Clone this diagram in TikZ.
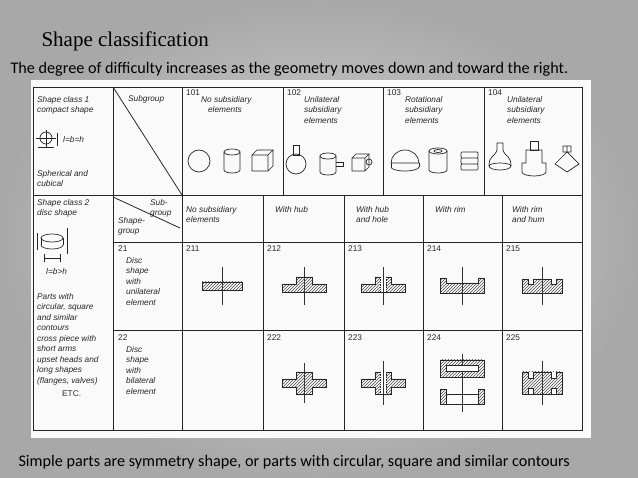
\documentclass[tikz,border=0pt]{standalone}
\usepackage{fontspec}
\setmainfont{Liberation Serif}
\newfontfamily\carlf{Carlito}
\newfontfamily\tbl{Liberation Sans}
\usetikzlibrary{patterns}
\begin{document}
\begin{tikzpicture}[x=1pt,y=-1pt,
  grid/.style={line width=0.8pt,draw=black!85},
  tx/.style={font=\tbl\itshape\fontsize{8.3}{10.5}\selectfont,anchor=north west,align=left,inner sep=0pt,text=black!85},
  num/.style={font=\tbl\fontsize{8.3}{9}\selectfont,anchor=north west,inner sep=0pt,text=black!85},
  sk/.style={line width=0.7pt,draw=black!85},
  hat/.style={sk,pattern=north east lines,pattern color=black!70},
  ax/.style={line width=0.6pt,draw=black!80}]
\useasboundingbox (0,0) rectangle (638,478);
\shade[inner color=gray!30,outer color=gray!68] (0,0) rectangle (638,478);
\node[anchor=west,font=\fontsize{21}{24}\selectfont] (title) at (38,41) {Shape classification};
\node[anchor=west,font=\carlf\fontsize{16.2}{18}\selectfont] (sub) at (7,69) {The degree of difficulty increases as the geometry moves down and toward the right.};
\node[anchor=west,font=\carlf\fontsize{16.2}{18}\selectfont] (cap) at (15,462) {Simple parts are symmetry shape, or parts with circular, square and similar contours};
% paper
\fill[white!96!gray] (31,80) rectangle (591,438);
% grid
\draw[grid] (33,87) rectangle (582,430);
\draw[grid] (33,195) -- (582,195);
\draw[grid] (113,242) -- (582,242);
\draw[grid] (113,330) -- (582,330);
\draw[grid] (113,87) -- (113,430);
\draw[grid] (182,87) -- (182,430);
\foreach \x in {283,383,484} \draw[grid] (\x,87) -- (\x,195);
\foreach \x in {263,344,423,502} \draw[grid] (\x,195) -- (\x,430);
\draw[grid] (113,87) -- (182,195);
\draw[grid] (113,197) -- (180,228);
% header row1
\node[tx] (sg) at (128,95) {Subgroup};
\node[num] (n101) at (186,90) {101};
\node[tx] (t101) at (201,96) {No subsidiary\\\ \ \ elements};
\node[num] (n102) at (287,90) {102};
\node[tx] (t102) at (304,96) {Unilateral\\subsidiary\\elements};
\node[num] (n103) at (387,90) {103};
\node[tx] (t103) at (405,96) {Rotational\\subsidiary\\elements};
\node[num] (n104) at (488,90) {104};
\node[tx] (t104) at (507,96) {Unilateral\\subsidiary\\elements};
% left row1
\node[tx] (c1) at (37,96) {Shape class 1\\compact shape};
\node[tx] (c1b) at (63,136) {l=b=h};
\node[tx] (c1c) at (37,170) {Spherical and\\cubical};
\draw[sk] (46,138) circle (6);
\draw[sk] (36,138) -- (56,138) (46,130) -- (46,148);
\draw[sk] (38,147) -- (54,147) (57,133) -- (57,146);
% row2 header
\node[tx] (sub2) at (150,199) {Sub-\\group};
\node[tx] (sh2) at (118,217) {Shape-\\group};
\node[tx] (h211) at (186,206) {No subsidiary\\elements};
\node[tx] (h212) at (275,206) {With hub};
\node[tx] (h213) at (356,206) {With hub\\and hole};
\node[tx] (h214) at (435,206) {With rim};
\node[tx] (h215) at (512,206) {With rim\\and hum};
\node[tx] (c2) at (37,199) {Shape class 2\\disc shape};
\draw[sk] (52,238) ellipse (11 and 4);
\draw[sk] (41,238) -- (41,245) (63,238) -- (63,245);
\draw[sk] (41,245) arc (180:0:11 and 4);
\draw[sk] (37,233) -- (37,250) (67,228) -- (67,254) (44,258) -- (60,258) (44,254) -- (44,262) (60,254) -- (60,262);
\node[tx] (c2b) at (46,268) {l=b>h};
\node[tx] (c2c) at (37,293) {Parts with\\circular, square\\and similar\\contours\\cross piece with\\short arms\\upset heads and\\long shapes\\(flanges, valves)};
\node[num] (etc) at (62,391) {ETC.};
\node[num] (n21) at (118,246) {21};
\node[tx] (t21) at (126,257) {Disc\\shape\\with\\unilateral\\element};
\node[num] (n22) at (118,335) {22};
\node[tx] (t22) at (126,346) {Disc\\shape\\with\\bilateral\\element};
\foreach \n/\x in {211/186,212/267,213/348,214/427,215/506} \node[num] (a\n) at (\x,246) {\n};
\foreach \n/\x in {222/267,223/348,224/427,225/506} \node[num] (a\n) at (\x,335) {\n};
% row1 sketches
\draw[sk] (199,161) circle (11);
\draw[sk] (224,152) -- (224,170) arc (180:0:8 and 3) -- (240,152);
\draw[sk] (232,152) ellipse (8 and 3);
\draw[sk] (252,155) rectangle (268,171) (252,155) -- (257,150) -- (273,150) -- (268,155) (273,150) -- (273,166) -- (268,171);
\draw[sk] (296,164) circle (10); \draw[sk] (293,155) rectangle (299,145);
\draw[sk] (320,156) -- (320,172) arc (180:0:8 and 3) -- (336,156); \draw[sk] (328,156) ellipse (8 and 3); \draw[sk] (336,162) -- (343,162) -- (343,166) -- (336,166);
\draw[sk] (352,158) rectangle (365,171) (352,158) -- (356,154) -- (369,154) -- (365,158) (369,154) -- (369,167) -- (365,171); \draw[sk] (369,162) circle (3);
\draw[sk] (391,163) arc (180:360:14 and 13) -- cycle; \draw[sk] (391,167) arc (180:0:14 and 4); \draw[sk] (391,163) -- (391,167) (419,163)--(419,167);
\draw[sk] (429,151) -- (429,170) arc (180:0:9 and 3) -- (447,151); \draw[sk] (438,151) ellipse (9 and 3) (438,151) ellipse (4 and 1.5);
\draw[sk,rounded corners=1pt] (461,152) rectangle (478,158) (461,158) rectangle (478,164) (461,164) rectangle (478,170);
\draw[sk] (489,166) .. controls (489,155) and (495,157) .. (497,150) -- (497,143) -- (503,143) -- (503,150) .. controls (505,157) and (511,155) .. (511,166) arc (0:180:11 and 4);
\draw[sk] (489,166) arc (180:360:11 and 3);
\draw[sk] (526,150) -- (526,163) -- (522,163) -- (522,172) arc (180:0:12 and 4) -- (546,163) -- (542,163) -- (542,150) -- cycle; \draw[sk] (530,150) rectangle (538,141);
\draw[sk] (555,164) -- (567,152) -- (579,164) -- (567,172) -- cycle (567,152) -- (567,146) (563,146) rectangle (571,152);
% row 21 sketches
\begin{scope}[shift={(222,286)}]
 \draw[ax] (0,-19) -- (0,19); \draw[hat] (-20,-4) rectangle (20,4);
\end{scope}
\begin{scope}[shift={(304,286)}]
 \draw[ax] (0,-19) -- (0,19); \draw[hat] (-22,-2) -- (-8,-2) -- (-8,-9) -- (8,-9) -- (8,-2) -- (22,-2) -- (22,6) -- (-22,6) -- cycle;
\end{scope}
\begin{scope}[shift={(383,286)}]
 \draw[hat] (-22,-2) -- (-8,-2) -- (-8,-9) -- (8,-9) -- (8,-2) -- (22,-2) -- (22,6) -- (-22,6) -- cycle;
 \fill[white] (-3,-9) rectangle (3,6); \draw[sk,densely dotted] (-3,-9) -- (-3,6) (3,-9) -- (3,6); \draw[ax] (0,-19) -- (0,19);
\end{scope}
\begin{scope}[shift={(462,286)}]
 \draw[ax] (0,-19) -- (0,19); \draw[hat] (-22,-8) -- (-16,-8) -- (-16,-3) -- (16,-3) -- (16,-8) -- (22,-8) -- (22,7) -- (-22,7) -- cycle;
\end{scope}
\begin{scope}[shift={(542,286)}]
 \draw[ax] (0,-19) -- (0,19); \draw[hat] (-20,-7) -- (-14,-7) -- (-14,-2) -- (-9,-2) -- (-9,-7) -- (9,-7) -- (9,-2) -- (14,-2) -- (14,-7) -- (20,-7) -- (20,7) -- (-20,7) -- cycle;
\end{scope}
% row 22 sketches
\begin{scope}[shift={(304,383)}]
 \draw[ax] (0,-20) -- (0,20); \draw[hat] (-22,-4) -- (-8,-4) -- (-8,-11) -- (8,-11) -- (8,-4) -- (22,-4) -- (22,4) -- (8,4) -- (8,11) -- (-8,11) -- (-8,4) -- (-22,4) -- cycle;
\end{scope}
\begin{scope}[shift={(383,383)}]
 \draw[hat] (-22,-4) -- (-8,-4) -- (-8,-11) -- (8,-11) -- (8,-4) -- (22,-4) -- (22,4) -- (8,4) -- (8,11) -- (-8,11) -- (-8,4) -- (-22,4) -- cycle;
 \fill[white] (-3,-11) rectangle (3,11); \draw[sk,densely dotted] (-3,-11) -- (-3,11) (3,-11) -- (3,11); \draw[ax] (0,-22) -- (0,22);
\end{scope}
\begin{scope}[shift={(462,383)}]
 \draw[ax] (0,-29) -- (0,29);
 \draw[hat] (-22,-23) rectangle (22,-6); \fill[white] (-16,-18) rectangle (16,-12); \draw[sk] (-16,-18) rectangle (16,-12);
 \draw[hat] (-22,6) rectangle (-16,21) (16,6) rectangle (22,21); \draw[sk] (-16,11) -- (16,11) (-16,21) -- (16,21);
\end{scope}
\begin{scope}[shift={(542,383)}]
 \draw[ax] (0,-22) -- (0,22); \draw[hat] (-20,-11) rectangle (20,11);
 \foreach \s in {-1,1} {\fill[white] (\s*9,-11) rectangle (\s*14,-5); \draw[sk] (\s*9,-11) -- (\s*9,-5) -- (\s*14,-5) -- (\s*14,-11);
   \fill[white] (\s*9,11) rectangle (\s*14,5); \draw[sk] (\s*9,11) -- (\s*9,5) -- (\s*14,5) -- (\s*14,11);}
\end{scope}
\end{tikzpicture}
\end{document}
